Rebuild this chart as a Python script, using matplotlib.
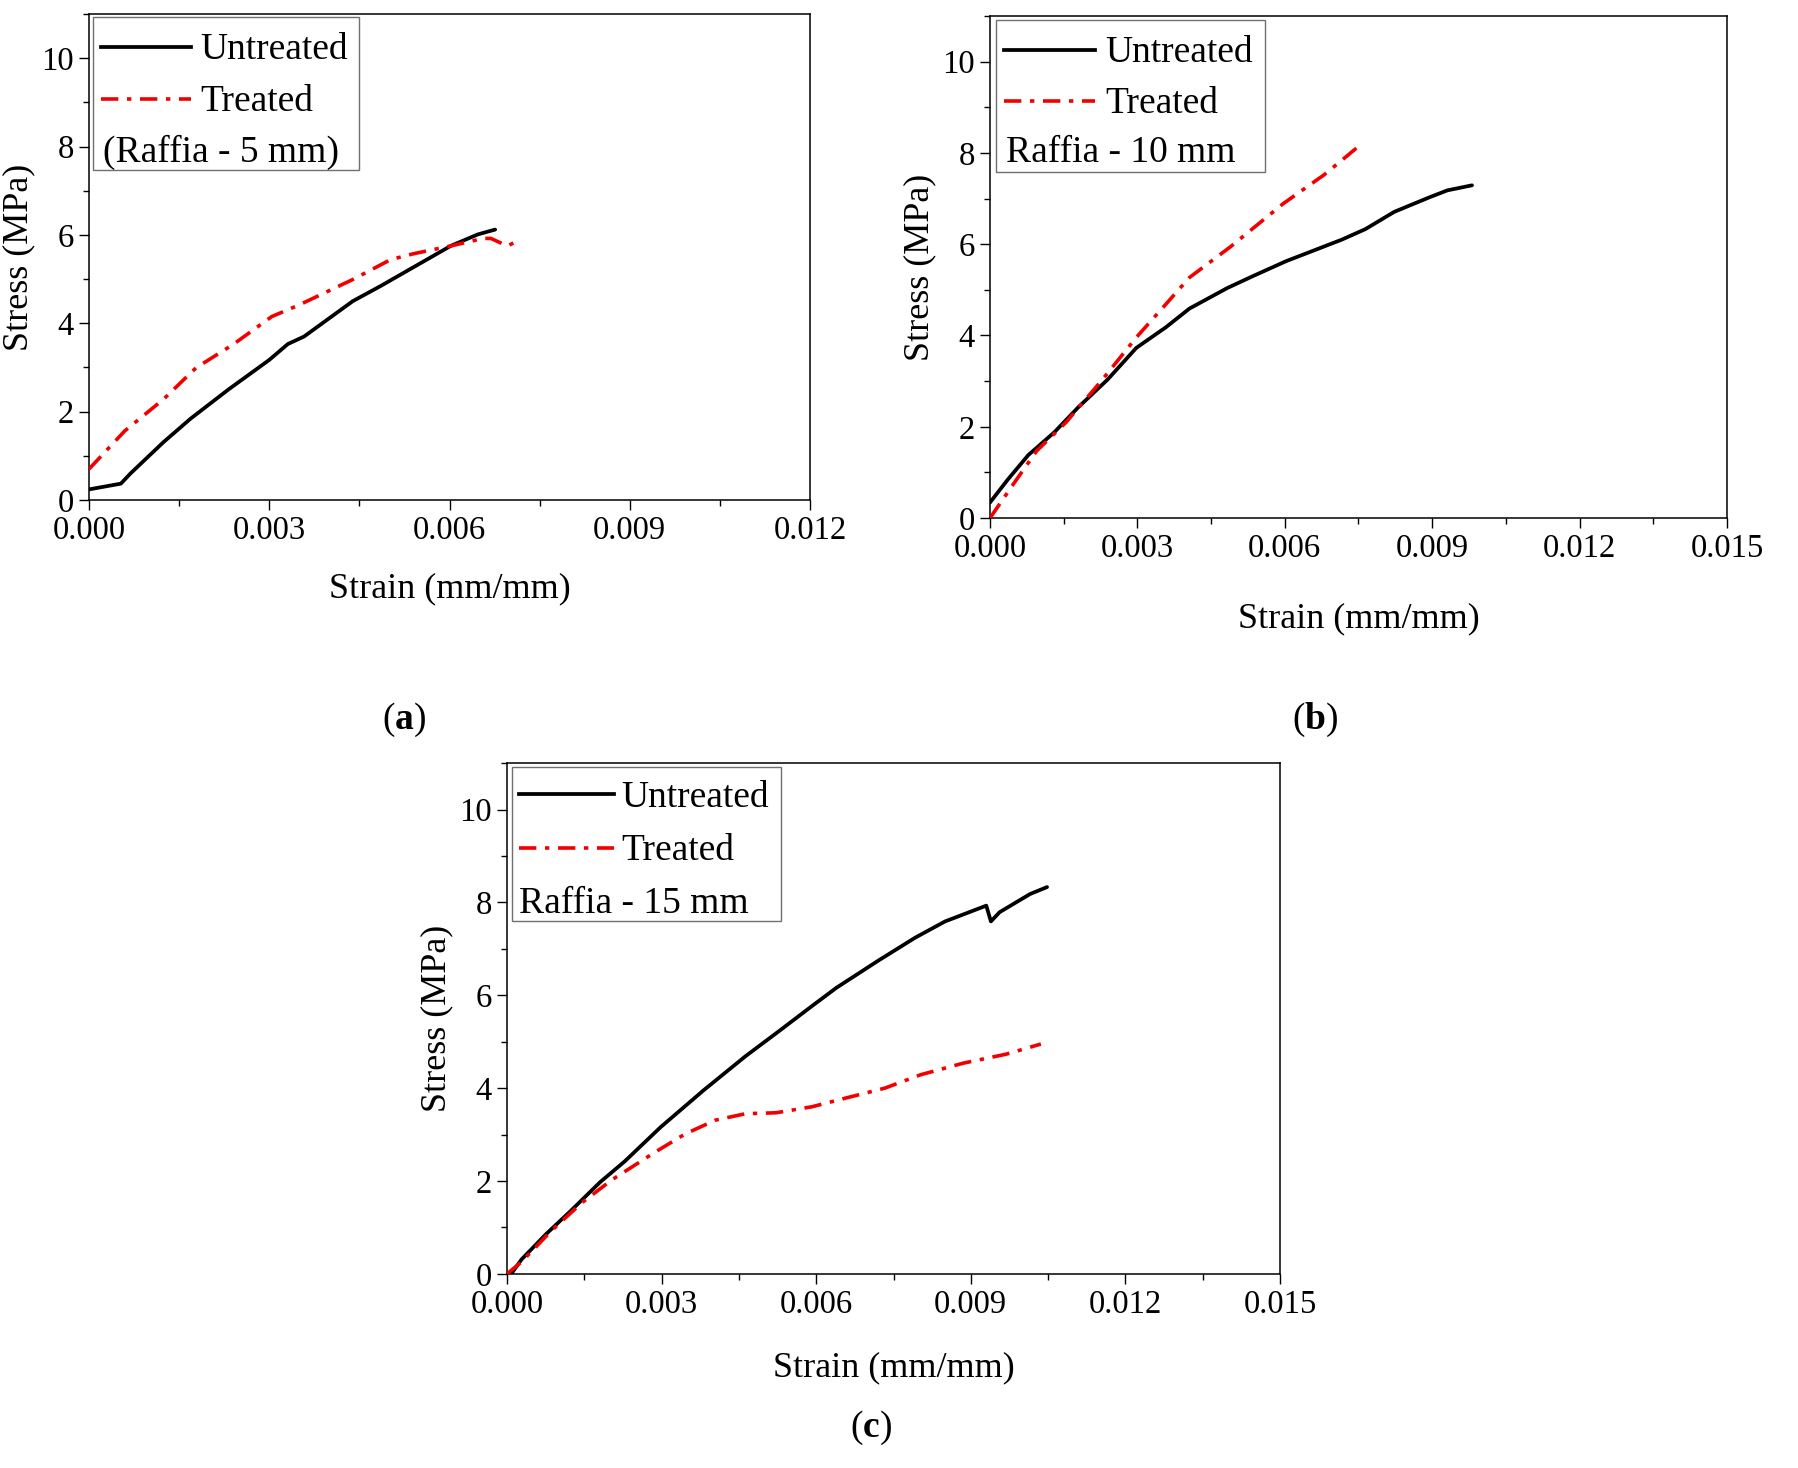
import matplotlib
matplotlib.use("Agg")
import matplotlib.pyplot as plt
from matplotlib.patches import Rectangle
from matplotlib.ticker import MultipleLocator, FormatStrFormatter

plt.rcParams['font.family'] = ['Liberation Serif', 'DejaVu Serif']
plt.rcParams['mathtext.fontset'] = 'custom'
plt.rcParams['mathtext.bf'] = 'Liberation Serif:bold'
plt.rcParams['mathtext.rm'] = 'Liberation Serif'

# panel (a) Raffia - 5 mm
a_untreated_x = [0.0, 0.00053, 0.00069, 0.00124, 0.00169, 0.00232, 0.00300, 0.00331, 0.00358,
                 0.00439, 0.00485, 0.00539, 0.00602, 0.00647, 0.00676]
a_untreated_y = [0.24, 0.37, 0.60, 1.31, 1.84, 2.50, 3.17, 3.53, 3.70,
                 4.50, 4.84, 5.26, 5.75, 6.01, 6.12]
a_treated_x = [0.0, 0.0006, 0.00124, 0.00178, 0.00241, 0.00304, 0.00349, 0.00439, 0.00502,
               0.00539, 0.00602, 0.00656, 0.00669, 0.00696, 0.00717]
a_treated_y = [0.70, 1.57, 2.28, 2.99, 3.53, 4.15, 4.41, 4.99, 5.44,
               5.57, 5.75, 5.92, 5.92, 5.75, 5.88]

# panel (b) Raffia - 10 mm
b_untreated_x = [0.0, 0.00036, 0.00078, 0.00131, 0.00179, 0.00239, 0.00298, 0.00358, 0.00406, 0.00483,
                 0.00537, 0.00603, 0.00656, 0.00716, 0.00764, 0.00823, 0.00895, 0.00931, 0.00981]
b_untreated_y = [0.34, 0.84, 1.38, 1.88, 2.42, 3.03, 3.73, 4.18, 4.59, 5.04,
                 5.31, 5.63, 5.85, 6.10, 6.33, 6.71, 7.03, 7.18, 7.29]
b_treated_x = [0.0, 0.00048, 0.00095, 0.00155, 0.00227, 0.00298, 0.00346, 0.00406, 0.00489,
               0.00597, 0.00680, 0.00752]
b_treated_y = [0.0, 0.75, 1.47, 2.10, 3.01, 3.96, 4.54, 5.27, 5.94, 6.89, 7.52, 8.16]

# panel (c) Raffia - 15 mm
c_untreated_x = [0.00008, 0.00028, 0.00075, 0.00122, 0.00181, 0.00228, 0.00298, 0.00381, 0.00463, 0.00522,
                 0.00592, 0.00639, 0.00721, 0.00792, 0.00850, 0.00930, 0.00939, 0.00956, 0.01015, 0.01048]
c_untreated_y = [0.0, 0.31, 0.85, 1.34, 1.98, 2.42, 3.16, 3.95, 4.69, 5.18,
                 5.77, 6.16, 6.75, 7.24, 7.59, 7.93, 7.59, 7.79, 8.18, 8.33]
c_treated_x = [0.0, 0.00028, 0.00087, 0.00146, 0.00204, 0.00287, 0.00345, 0.00404, 0.00463,
               0.00522, 0.00592, 0.00662, 0.00733, 0.00803, 0.00886, 0.00968, 0.01036]
c_treated_y = [0.0, 0.26, 0.94, 1.54, 2.03, 2.62, 3.01, 3.31, 3.45,
               3.47, 3.60, 3.80, 4.00, 4.29, 4.54, 4.73, 4.95]

series_labels = ['Untreated', 'Treated']
panel_notes = ['(Raffia - 5 mm)', 'Raffia - 10 mm', 'Raffia - 15 mm']
panel_tags = ['a', 'b', 'c']
x_max = [0.012, 0.015, 0.015]

RED = '#f20000'
DASHDOT = (0, (4.8, 2.4, 1.2, 2.4))
LW_BLACK = 2.7
LW_RED = 2.6

fig = plt.figure(figsize=(17.98, 14.68), dpi=100)

axes_rects = [
    [0.0495, 0.6594, 0.4010, 0.3311],
    [0.5506, 0.6471, 0.4099, 0.3420],
    [0.2820, 0.1322, 0.4299, 0.3480],
]

# legend geometry in axes fraction: box, handle x, row y, text x, note x
legend_geom = [
    dict(box=(0.006, 0.679, 0.374, 0.993), hx=(0.016, 0.142), ys=(0.932, 0.825, 0.722), tx=0.154, nx=0.019),
    dict(box=(0.008, 0.689, 0.373, 0.993), hx=(0.019, 0.143), ys=(0.932, 0.831, 0.733), tx=0.156, nx=0.022),
    dict(box=(0.006, 0.691, 0.355, 0.993), hx=(0.015, 0.138), ys=(0.939, 0.834, 0.731), tx=0.148, nx=0.016),
]

data = [
    (a_untreated_x, a_untreated_y, a_treated_x, a_treated_y),
    (b_untreated_x, b_untreated_y, b_treated_x, b_treated_y),
    (c_untreated_x, c_untreated_y, c_treated_x, c_treated_y),
]

tag_pos = [(0.225, 0.5095), (0.7315, 0.5095), (0.4847, 0.0275)]
xlabel_pad = [19, 28, 23]

for i in range(3):
    ax = fig.add_axes(axes_rects[i])
    ux, uy, tx_, ty = data[i]
    ax.plot(ux, uy, color='black', lw=LW_BLACK, solid_capstyle='round', solid_joinstyle='round', zorder=3)
    ax.plot(tx_, ty, color=RED, lw=LW_RED, linestyle=DASHDOT, dash_capstyle='butt', zorder=3)

    ax.set_xlim(0, x_max[i])
    ax.set_ylim(0, 11)
    ax.xaxis.set_major_locator(MultipleLocator(0.003))
    ax.xaxis.set_minor_locator(MultipleLocator(0.0015))
    ax.xaxis.set_major_formatter(FormatStrFormatter('%.3f'))
    ax.yaxis.set_major_locator(MultipleLocator(2))
    ax.yaxis.set_minor_locator(MultipleLocator(1))
    ax.tick_params(which='major', direction='out', length=7, width=1.0, labelsize=23.5, pad=4)
    ax.tick_params(which='minor', direction='out', length=4, width=1.0)
    for sp in ax.spines.values():
        sp.set_linewidth(1.1)

    ax.set_xlabel('Strain (mm/mm)', fontsize=26, labelpad=xlabel_pad[i])
    ax.set_ylabel('Stress (MPa)', fontsize=26, labelpad=4)

    # legend drawn by hand so the note line starts at the box edge
    g = legend_geom[i]
    x0, y0, x1, y1 = g['box']
    ax.add_patch(Rectangle((x0, y0), x1 - x0, y1 - y0, transform=ax.transAxes,
                           facecolor='white', edgecolor='#707070', lw=1.0, zorder=4))
    ax.plot(g['hx'], [g['ys'][0]] * 2, transform=ax.transAxes, color='black', lw=LW_BLACK, zorder=5)
    ax.plot(g['hx'], [g['ys'][1]] * 2, transform=ax.transAxes, color=RED, lw=LW_RED,
            linestyle=DASHDOT, zorder=5)
    for j, lab in enumerate(series_labels):
        ax.text(g['tx'], g['ys'][j] - 0.006, lab, transform=ax.transAxes, fontsize=27,
                va='center', ha='left', zorder=6)
    ax.text(g['nx'], g['ys'][2] - 0.006, panel_notes[i], transform=ax.transAxes, fontsize=27,
            va='center', ha='left', zorder=6)

    fig.text(tag_pos[i][0], tag_pos[i][1], r'($\mathbf{' + panel_tags[i] + r'}$)',
             fontsize=27, ha='center', va='center')

fig.savefig('out.png', dpi=100)
